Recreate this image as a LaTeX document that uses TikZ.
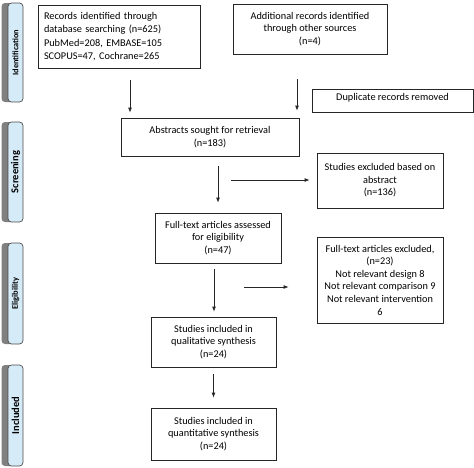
\documentclass[tikz,border=0pt]{standalone}
\usepackage{fontspec}
\setmainfont{Carlito}
\usetikzlibrary{arrows.meta}
\definecolor{phaseblue}{HTML}{D6EBF8}

\begin{document}
\begin{tikzpicture}[x=1pt,y=-1pt,>={Latex[length=5pt,width=4pt]},
  font=\fontsize{10.3}{12.6}\selectfont,
  box/.style={draw=black!85,line width=0.8pt,fill=white,inner sep=2pt,align=center},
  phase/.style={draw=black!70,line width=0.7pt,rounded corners=3.5pt,fill=phaseblue,
    minimum height=15pt,inner sep=0pt,rotate=90},
  flow/.style={->,line width=0.8pt,black!85}]
\useasboundingbox (0,0) rectangle (474,467);
% phase labels with grey shadow on the left
\foreach \ytop/\ybot/\name/\fs/\lbl in {3/102/ident/8.3/Identification,122/222/screen/10.5/Screening,243/344/elig/8.5/Eligibility,365/466/incl/10.5/Included}{
  \fill[black!50,rounded corners=3.5pt] (1.5,\ytop) rectangle (14,\ybot);
  \node[phase,minimum width=\ybot-\ytop,font=\fontsize{\fs}{12}\selectfont\bfseries] (\name) at (15.5,{(\ytop+\ybot)/2}) {\lbl};
}
% boxes
\node[box,align=left,minimum width=162pt,minimum height=63pt,text width=150pt,font=\fontsize{10.3}{13.3}\selectfont] (rec) at (119,36.5)
  {Records identified through\\database searching (n=625)\\PubMed=208, EMBASE=105\\SCOPUS=47, Cochrane=265};
\node[box,minimum width=154pt,minimum height=50pt] (add) at (310,29)
  {Additional records identified\\through other sources\\(n=4)};
\node[box,minimum width=161pt,minimum height=23pt] (dup) at (392.5,100.5) {};
\node[anchor=north,inner sep=0pt] (duptxt) at ([yshift=-5pt]dup.north) {Duplicate records removed};
\node[box,minimum width=178pt,minimum height=38pt] (abs) at (210,137)
  {Abstracts sought for retrieval\\(n=183)};
\node[box,minimum width=126pt,minimum height=55pt] (exab) at (380,180.5)
  {Studies excluded based on\\abstract\\(n=136)};
\node[box,minimum width=126pt,minimum height=50pt] (full) at (218,238)
  {Full-text articles assessed\\for eligibility\\(n=47)};
\node[box,minimum width=126pt,minimum height=86pt] (exfull) at (380,280)
  {Full-text articles excluded,\\(n=23)\\Not relevant design 8\\Not relevant comparison 9\\Not relevant intervention\\6};
\node[box,minimum width=125pt,minimum height=50pt] (qual) at (213.5,342)
  {Studies included in\\qualitative synthesis\\(n=24)};
\node[box,minimum width=125pt,minimum height=52pt] (quant) at (213.5,434)
  {Studies included in\\quantitative synthesis\\(n=24)};
% arrows
\draw[flow,shorten <=12pt,shorten >=5pt] ([xshift=11pt]rec.south) -- ([xshift=11pt]rec.south |- abs.north);
\draw[flow,shorten <=25pt,shorten >=7pt] ([xshift=-13pt]add.south) -- ([xshift=-13pt]add.south |- abs.north);
\draw[flow,shorten <=10pt,shorten >=10pt] (abs.south -| full.north) -- (full.north);
\coordinate (s1) at (231,180);
\draw[flow,shorten >=7pt] (s1) -- (s1 -| exab.west);
\draw[flow,shorten <=6pt,shorten >=5pt] (full.south -| 214,0) -- (qual.north -| 214,0);
\coordinate (s2) at (244,287);
\draw[flow,shorten >=28pt] (s2) -- (s2 -| exfull.west);
\draw[flow,shorten <=7pt,shorten >=10pt] (qual.south) -- (quant.north);
\end{tikzpicture}
\end{document}
